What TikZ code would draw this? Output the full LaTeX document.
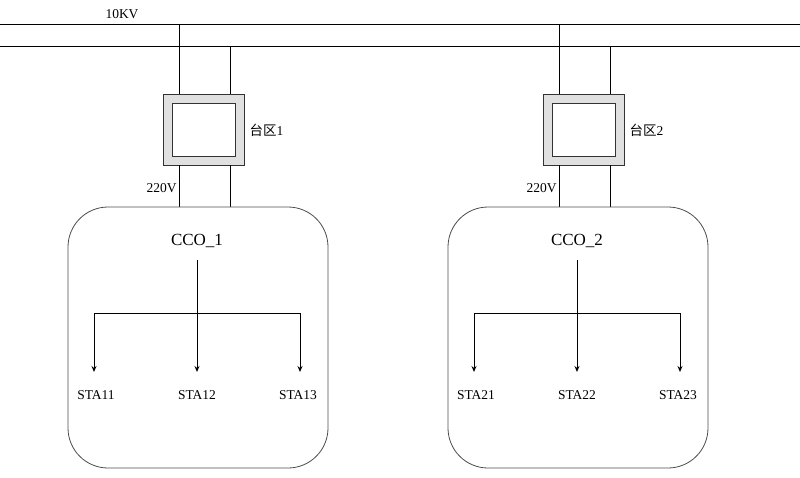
\documentclass[tikz,border=0pt]{standalone}
\usepackage{fontspec}
\usetikzlibrary{arrows.meta}
\setmainfont{Liberation Serif}
\newfontfamily\cjk{Noto Sans CJK SC}
\begin{document}
\begin{tikzpicture}[x=1pt,y=-1pt,line width=1pt,
  txt/.style={font=\fontsize{13.5}{15}\selectfont,inner sep=1pt},
  big/.style={font=\fontsize{17}{19}\selectfont,inner sep=1pt},
  area/.style={draw=black!70,rounded corners=40pt,line width=0.8pt},
  arr/.style={-{Stealth[length=6pt,width=5pt]}}]
\useasboundingbox (0,0) rectangle (800,477);
\coordinate (b1a) at (0,24); \coordinate (b1b) at (800,24);
\coordinate (b2a) at (0,46); \coordinate (b2b) at (800,46);
\draw (b1a) -- (b1b); \draw (b2a) -- (b2b);
\node[txt,anchor=west] (kv) at (104,14) {10KV};
\foreach \i/\X/\L in {1/0/1,2/380/2}{
 \begin{scope}[xshift=\X]
  \draw[black!80,fill=black!12] (163,94) rectangle (244,165);
  \draw[black!80,fill=white] (172,103) rectangle (235,156);
  \node[txt,anchor=west] (tq\i) at (248,130) {{\cjk 台区}\L};
  \draw (179,24) -- (179,94); \draw (230,46) -- (230,94);
  \draw (179,165) -- (179,207); \draw (230,165) -- (230,207);
  \node[txt,anchor=east] (v\i) at (178,188) {220V};
  \draw[area] (68,207) rectangle (328,468);
  \node[big] (cco\i) at (197,241) {CCO\_\L};
  \node[txt] (s\i1) at (96,395) {STA\L1};
  \node[txt] (s\i2) at (197,395) {STA\L2};
  \node[txt] (s\i3) at (298,395) {STA\L3};
  \draw[arr] (197,260) -- (197,372);
  \draw[arr] (197,313) -| (94,372);
  \draw[arr] (197,313) -| (300,372);
 \end{scope}}
\end{tikzpicture}
\end{document}
